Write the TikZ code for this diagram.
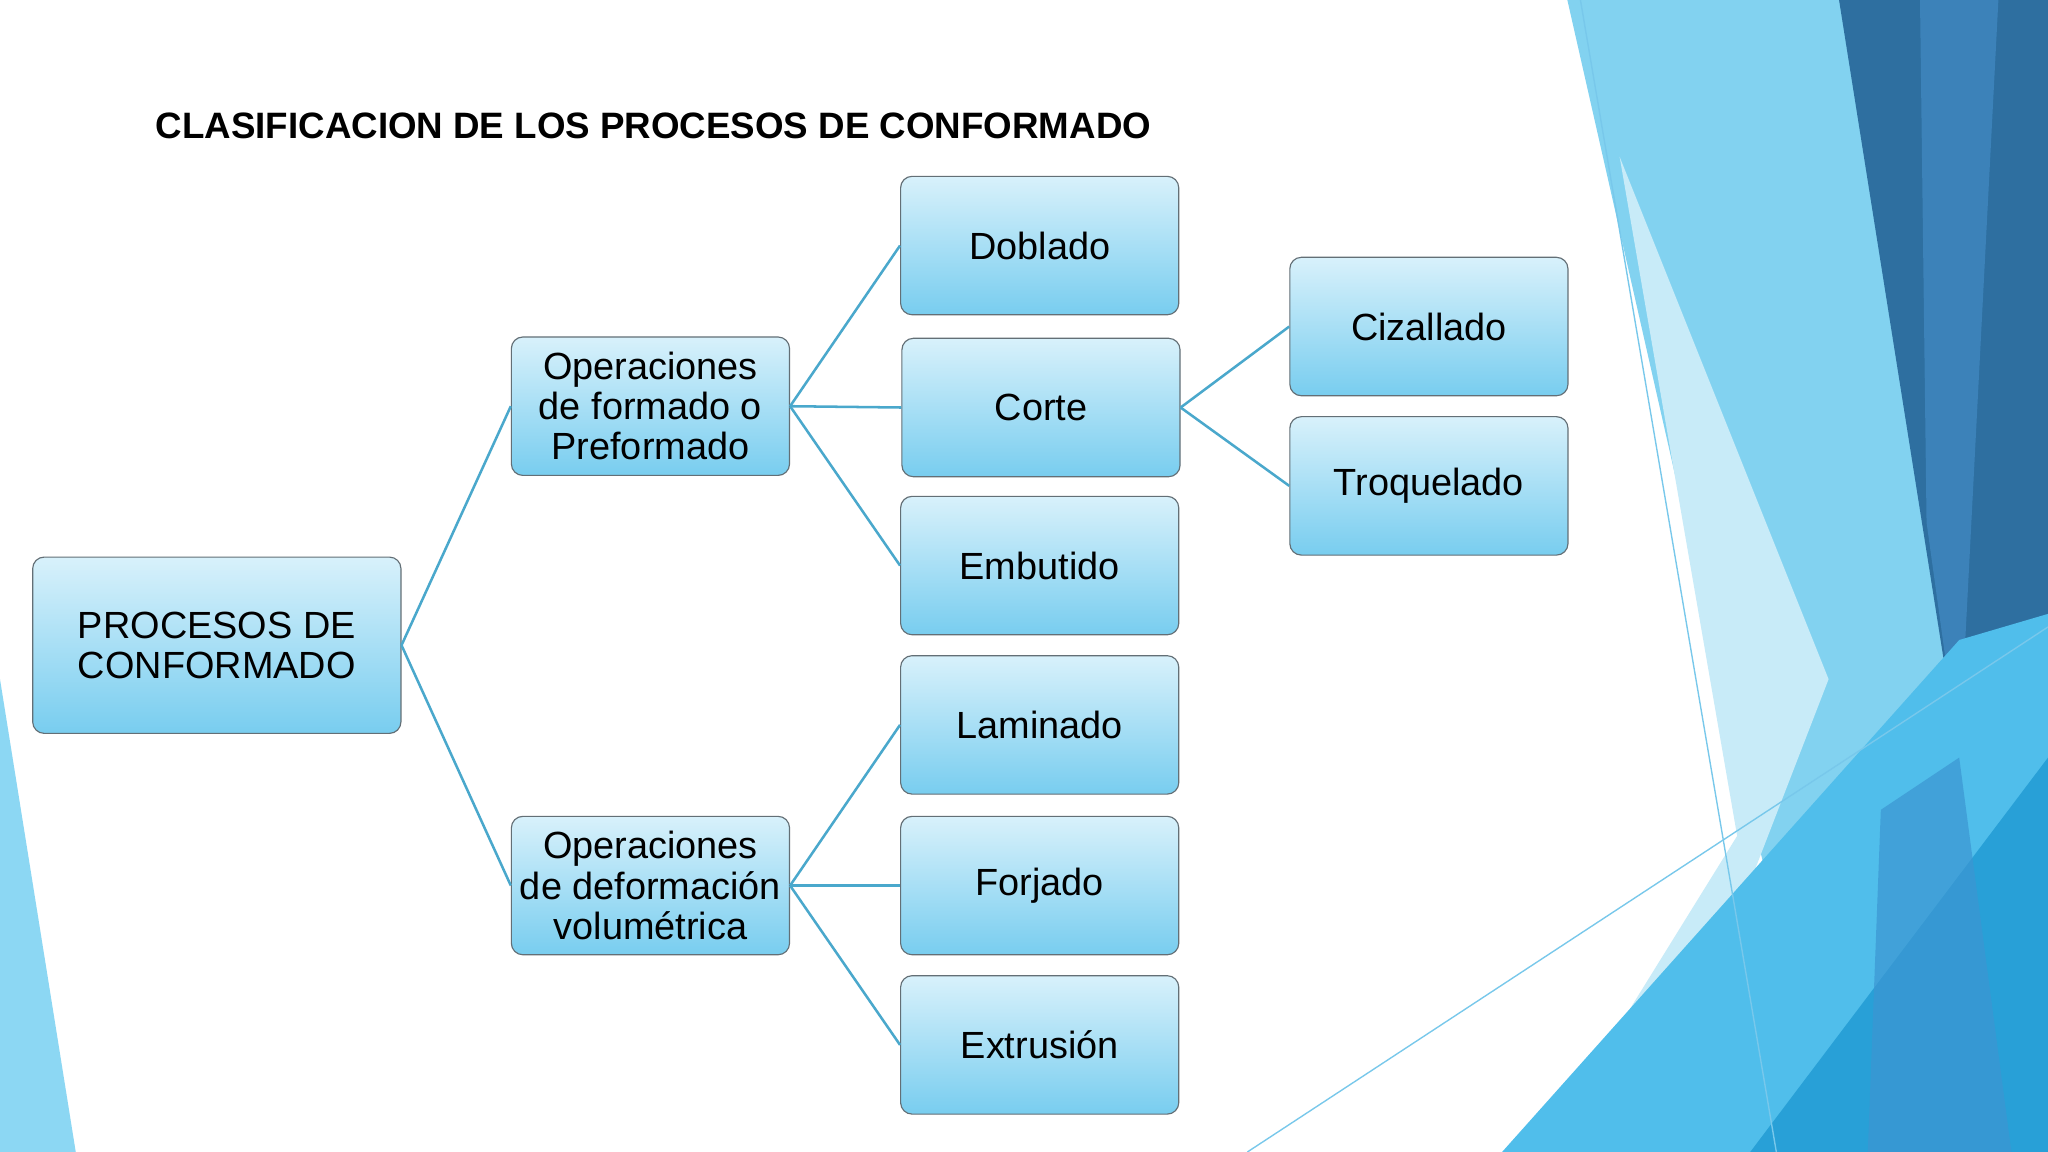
\documentclass[tikz,border=0pt]{standalone}
\usepackage{fontspec}
\setmainfont{Liberation Sans}
\begin{document}
\begin{tikzpicture}[x=0.02cm,y=-0.02cm,
  bx/.style={draw=gray!70!cyan!60!black, line width=0.5pt, rounded corners=5pt, top color=boxtop, bottom color=boxbot, minimum width=4.26cm, minimum height=2.12cm, align=center, font=\fontsize{16.5}{17.5}\selectfont, inner sep=1pt},
  cn/.style={draw=conn, line width=1.1pt}]
\definecolor{boxtop}{HTML}{D8F1FB}
\definecolor{boxbot}{HTML}{78CDEF}
\definecolor{conn}{HTML}{4AA8CC}
\useasboundingbox (0,0) rectangle (1568,882);
\fill[white] (0,0) rectangle (1568,882);
% background decoration
\fill[color={rgb,255:red,140;green,215;blue,243}] (0,520) -- (58,882) -- (0,882) -- cycle;
\fill[color={rgb,255:red,130;green,210;blue,240}] (1200,0) -- (1410,0) -- (1500,580) -- (1540,882) -- (1400,882) -- cycle;
\fill[color={rgb,255:red,200;green,235;blue,248}] (1240,120) -- (1330,640) -- (1180,882) -- (1260,882) -- (1400,520) -- cycle;
\fill[color={rgb,255:red,46;green,111;blue,160}] (1408,0) -- (1568,0) -- (1568,470) -- (1500,580) -- cycle;
\fill[color={rgb,255:red,60;green,130;blue,185}] (1470,0) -- (1530,0) -- (1500,580) -- (1475,400) -- cycle;
\fill[color={rgb,255:red,80;green,190;blue,235}] (1150,882) -- (1500,490) -- (1568,470) -- (1568,882) -- cycle;
\fill[color={rgb,255:red,40;green,160;blue,215}] (1340,882) -- (1568,580) -- (1568,882) -- cycle;
\fill[color={rgb,255:red,60;green,150;blue,210},opacity=0.7] (1440,620) -- (1500,580) -- (1540,882) -- (1430,882) -- cycle;
\draw[color={rgb,255:red,120;green,200;blue,235},line width=0.6pt] (1210,0) -- (1360,882);
\draw[color={rgb,255:red,120;green,200;blue,235},line width=0.6pt] (955,882) -- (1568,480);
% title
\node[font=\bfseries\fontsize{16}{18}\selectfont, anchor=west] (t) at (113,96) {CLASIFICACION DE LOS PROCESOS DE CONFORMADO};
% nodes
\node[bx, minimum width=5.64cm, minimum height=2.7cm] (p) at (166,494) {PROCESOS DE\\CONFORMADO};
\node[bx] (f) at (498,311) {Operaciones\\de formado o\\Preformado};
\node[bx] (d) at (498,678) {Operaciones\\de deformación\\volumétrica};
\node[bx] (a1) at (796,188) {Doblado};
\node[bx] (a2) at (797,312) {Corte};
\node[bx] (a3) at (796,433) {Embutido};
\node[bx] (b1) at (796,555) {Laminado};
\node[bx] (b2) at (796,678) {Forjado};
\node[bx] (b3) at (796,800) {Extrusión};
\node[bx] (c1) at (1094,250) {Cizallado};
\node[bx] (c2) at (1094,372) {Troquelado};
% connectors
\draw[cn] (p.east) -- (f.west);
\draw[cn] (p.east) -- (d.west);
\foreach \n in {a1,a2,a3} \draw[cn] (f.east) -- (\n.west);
\foreach \n in {b1,b2,b3} \draw[cn] (d.east) -- (\n.west);
\foreach \n in {c1,c2} \draw[cn] (a2.east) -- (\n.west);
\end{tikzpicture}
\end{document}
